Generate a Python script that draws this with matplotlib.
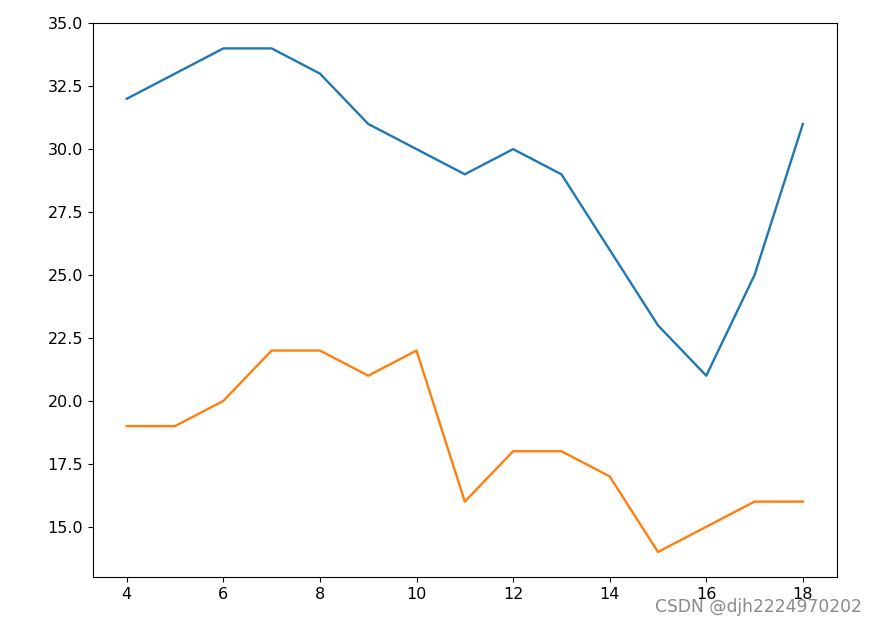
import matplotlib
matplotlib.use("Agg")
import matplotlib.pyplot as plt

days = list(range(4, 19))
high = [32, 33, 34, 34, 33, 31, 30, 29, 30, 29, 26, 23, 21, 25, 31]
low = [19, 19, 20, 22, 22, 21, 22, 16, 18, 18, 17, 14, 15, 16, 16]

fig = plt.figure(figsize=(8.77, 6.28), dpi=100)
ax = fig.add_axes([0.106, 0.081, 0.848, 0.882])
ax.plot(days, high, linewidth=1.7)
ax.plot(days, low, linewidth=1.7)
ax.tick_params(labelsize=11.5)
fig.text(0.983, 0.019, "CSDN @djh2224970202", ha="right", va="bottom",
         fontsize=12.3, color="#8a8a8a")
fig.savefig("out.png", dpi=100)
